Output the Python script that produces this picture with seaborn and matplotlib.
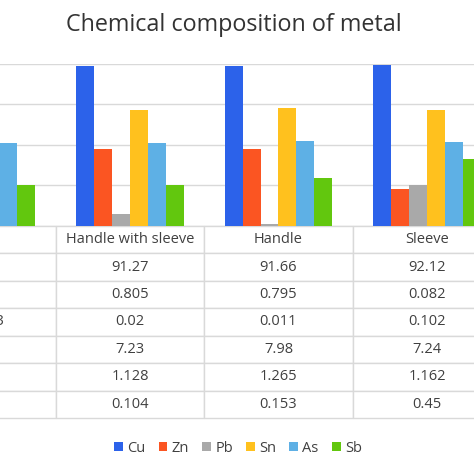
import pandas as pd
import matplotlib.pyplot as plt
import seaborn as sns

# Data (first part is cut off at the left edge of the reference)
parts = ["Blade", "Handle with sleeve", "Handle", "Sleeve"]
elements = ["Cu", "Zn", "Pb", "Sn", "As", "Sb"]
cu = [91.5, 91.27, 91.66, 92.12]
zn = [0.8, 0.805, 0.795, 0.082]
pb = [0.0233, 0.02, 0.011, 0.102]
sn = [7.4, 7.23, 7.98, 7.24]
as_ = [1.13, 1.128, 1.265, 1.162]
sb = [0.1, 0.104, 0.153, 0.45]
colors = ["#2c62ea", "#fb5522", "#a9a9a9", "#ffc11e", "#5eb0e5", "#62c70e"]

series = [cu, zn, pb, sn, as_, sb]
df = pd.DataFrame([
    {"part": p, "element": el, "value": vals[i]}
    for el, vals in zip(elements, series)
    for i, p in enumerate(parts)
])

sns.set_theme(style="white")
plt.rcParams["font.family"] = ["Open Sans", "DejaVu Sans"]

W = 474
fig = plt.figure(figsize=(4.74, 4.74), dpi=100)
# plot area runs past the left/right edge like the cropped original
ax = fig.add_axes([-92.75 / W, 248 / W, 594 / W, 162 / W])
ax.set_yscale("log")

sns.barplot(data=df, x="part", y="value", hue="element", palette=colors,
            width=0.727, gap=0, saturation=1, errorbar=None, linewidth=0,
            ax=ax)
ax.set_ylim(0.01, 100)
ax.set_xlim(-0.5, 3.5)
ax.yaxis.grid(True, which="major", color="#d9d9d9", lw=1)
ax.set_axisbelow(True)
ax.minorticks_off()
ax.tick_params(left=False, labelleft=False, bottom=False, labelbottom=False)
ax.set_xlabel("")
ax.set_ylabel("")
for s in ax.spines.values():
    s.set_visible(False)

# data table under the bars (first column holds the element names)
cell_text = [[el] + [f"{v:g}" for v in vals] for el, vals in zip(elements, series)]
tbl = ax.table(cellText=cell_text, colLabels=[""] + parts,
               colWidths=[0.25] * 5, cellLoc="center",
               bbox=[-0.25, -1.185, 1.25, 1.185])
tbl.auto_set_font_size(False)
tbl.set_fontsize(10.5)
for cell in tbl.get_celld().values():
    cell.set_edgecolor("#d9d9d9")
    cell.set_linewidth(1)
    cell.get_text().set_color("#404040")

sns.move_legend(ax, "center", bbox_to_anchor=(238 / W, 26 / W),
                bbox_transform=fig.transFigure, ncol=6, frameon=False,
                title=None, fontsize=10.5, handlelength=0.6, handleheight=0.6,
                handletextpad=0.3, columnspacing=0.9, labelcolor="#404040")

fig.text(233.5 / W, 1 - 25 / W, "Chemical composition of metal",
         ha="center", va="center", fontsize=16.8, color="#333333")

fig.savefig("out.png", dpi=100)
